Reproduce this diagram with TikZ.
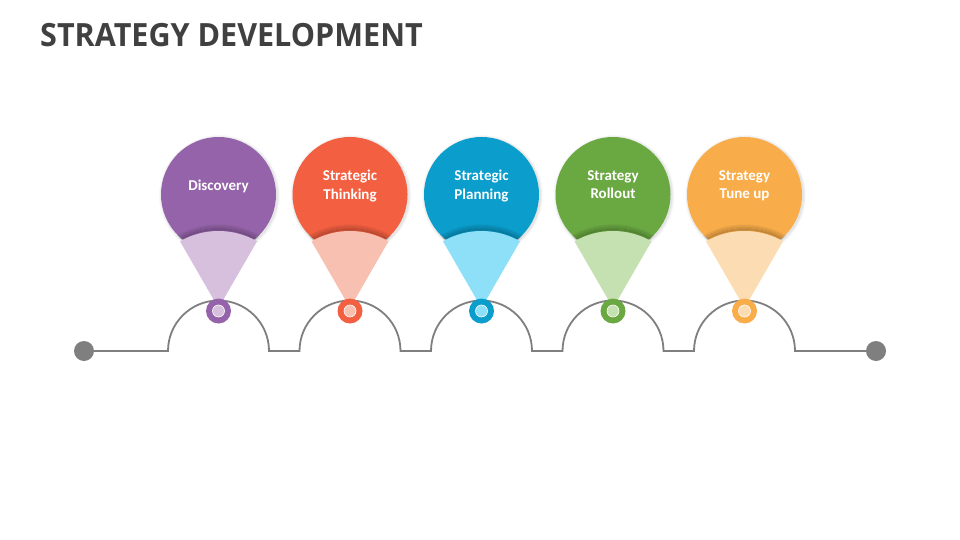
\documentclass[tikz,border=0pt]{standalone}
\usepackage{fontspec}
\usetikzlibrary{calc}
\setmainfont{Carlito}
\newfontfamily\titlefont{Open Sans}
\definecolor{titlegray}{HTML}{404040}
\definecolor{trackgray}{HTML}{7F7F7F}
\definecolor{cA}{HTML}{9563A9}\definecolor{lA}{HTML}{D6C0DE}
\definecolor{cB}{HTML}{F26041}\definecolor{lB}{HTML}{F8C0B1}
\definecolor{cC}{HTML}{0B9DCB}\definecolor{lC}{HTML}{8EDFF8}
\definecolor{cD}{HTML}{6AA842}\definecolor{lD}{HTML}{C5E0B1}
\definecolor{cE}{HTML}{F9AD4A}\definecolor{lE}{HTML}{FCDDB3}
\begin{document}
\begin{tikzpicture}[x=1pt,y=-1pt,
  track/.style={draw=trackgray,line width=1.8pt},
  enddot/.style={circle,fill=trackgray,minimum size=20pt,inner sep=0pt},
  pincircle/.style={circle,minimum size=115pt,inner sep=0pt},
  ringout/.style={circle,minimum size=25pt,inner sep=0pt},
  ringin/.style={circle,minimum size=12pt,inner sep=0pt,draw=white,line width=0.6pt},
  pinlabel/.style={text=white,align=center,font=\bfseries\fontsize{15}{18.5}\selectfont,inner sep=0pt}
]
\useasboundingbox (0,0) rectangle (960,540);
\fill[white] (0,0) rectangle (960,540);

\node[anchor=base west,inner sep=0pt,text=titlegray,font=\titlefont\bfseries\fontsize{32}{40}\selectfont] (title) at (40,47) {\scalebox{0.954}[1]{STRATEGY DEVELOPMENT}};

% track
\node[enddot] (dL) at (84,351) {};
\node[enddot] (dR) at (876,351) {};
\foreach \i/\cx in {1/218.5,2/350,3/481.5,4/613,5/744.5}{
  \coordinate (a\i l) at (\cx-50.5,351);
  \coordinate (a\i r) at (\cx+50.5,351);
}
\draw[track] (dL) -- (a1l) arc[start angle=180,end angle=360,radius=50.5]
  -- (a2l) arc[start angle=180,end angle=360,radius=50.5]
  -- (a3l) arc[start angle=180,end angle=360,radius=50.5]
  -- (a4l) arc[start angle=180,end angle=360,radius=50.5]
  -- (a5l) arc[start angle=180,end angle=360,radius=50.5]
  -- (dR);

% pins
\foreach \i/\cx/\dk/\lt/\txt in {1/218.5/cA/lA/Discovery,
                                  2/350/cB/lB/Strategic\\Thinking,
                                  3/481.5/cC/lC/Strategic\\Planning,
                                  4/613/cD/lD/Strategy\\Rollout\vphantom{g},
                                  5/744.5/cE/lE/Strategy\\Tune up}{
  % soft drop shadow
  \foreach \s/\o in {3/0.025,2/0.035,1/0.045}{
    \fill[black,opacity=\o] (\cx+1,195.5) circle[radius=57.5+\s];
  }
  \node[pincircle,fill=\dk] (p\i) at (\cx,194.5) {};
  \coordinate (tip\i) at (\cx,308);
  % shadow on the circle above the cone
  \begin{scope}
    \clip (\cx,194.5) circle[radius=58.5];
    \foreach \k/\o in {6/0.04,5/0.06,4/0.08,3/0.10,2/0.13,1/0.16}{
      \draw[black,opacity=\o,line width=1.5pt] ($(tip\i)+(238:77+\k)$) arc[start angle=238,end angle=302,radius=77+\k];
    }
  \end{scope}
  \fill[\lt] (tip\i) -- ($(tip\i)+(240:77)$) arc[start angle=240,end angle=300,radius=77] -- cycle;
  \node[ringout,fill=\dk] (r\i) at (\cx,311) {};
  \node[ringin,fill=\lt] (ri\i) at (r\i) {};
  \node[pinlabel] (t\i) at (\cx,186) {\txt};
}
\end{tikzpicture}
\end{document}
